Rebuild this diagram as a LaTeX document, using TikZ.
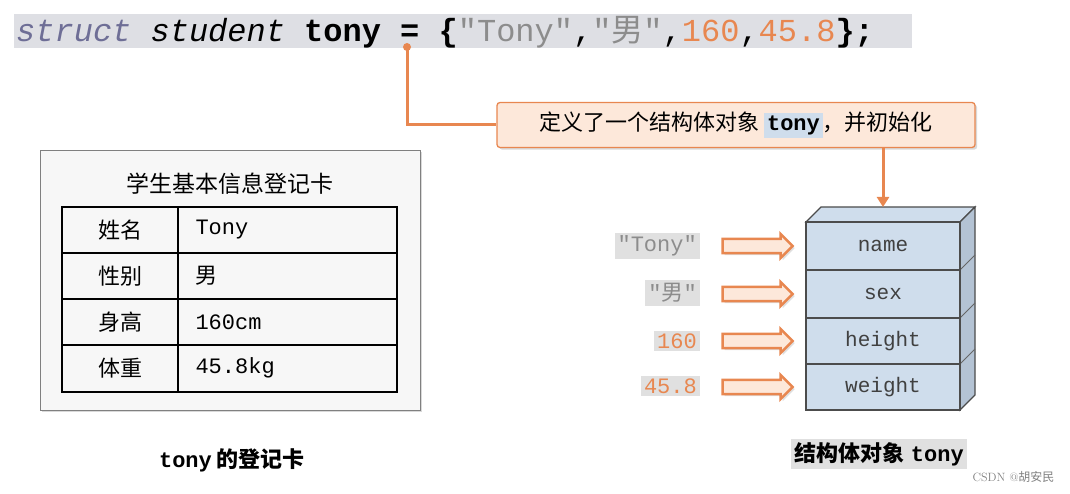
\documentclass[tikz,border=0pt]{standalone}
\usepackage{fontspec}
\setmonofont{Liberation Mono}
\newfontfamily\cjk{Noto Sans CJK SC}
\usetikzlibrary{shapes.arrows,shadows,arrows.meta}
\definecolor{org}{RGB}{232,135,80}
\definecolor{peach}{RGB}{253,232,218}
\definecolor{codebg}{RGB}{222,223,228}
\definecolor{boxblue}{RGB}{207,221,236}
\definecolor{boxside}{RGB}{180,195,212}
\definecolor{lgray}{RGB}{224,224,224}
\definecolor{strcol}{RGB}{140,140,140}
\definecolor{kw}{RGB}{110,110,150}
\tikzset{
 fat/.style={single arrow,draw=org,fill=peach,line width=2.5pt,minimum height=70pt,minimum width=24pt,single arrow head extend=3pt,single arrow head indent=0pt,inner sep=3pt,drop shadow={opacity=0.25}},
 lab/.style={fill=lgray,inner sep=3pt,font=\ttfamily\fontsize{22}{22}\selectfont,anchor=east},
 cell/.style={font=\ttfamily\fontsize{21}{21}\selectfont,text=black!75},
}
\begin{document}
\begin{tikzpicture}[x=1pt,y=-1pt]
\useasboundingbox (0,0) rectangle (1070,494);
% code line
\fill[codebg] (14,14) rectangle (912,48);
\node[anchor=west,inner sep=0,font=\ttfamily\fontsize{32}{32}\selectfont] (code) at (16,32)
 {\textcolor{kw}{\itshape struct} \textit{student} \textbf{tony} \textbf{=} \textbf{\{}\textcolor{strcol}{"Tony"},\textcolor{strcol}{"{\cjk 男}"},\textcolor{org}{160},\textcolor{org}{45.8}\textbf{\};}};
\coordinate (dot) at (407,47);
% callout
\node[draw=org,line width=1.3pt,fill=peach,rounded corners=3pt,minimum width=478pt,minimum height=45pt,drop shadow={opacity=0.3},font=\cjk\fontsize{22}{22}\selectfont] (call) at (736,125)
 {定义了一个结构体对象 \colorbox{boxblue}{\ttfamily\bfseries tony}，并初始化};
\fill[org] (dot) circle (4);
\draw[org,line width=3pt] (dot) |- (call.west);
% card
\node[draw=black!50,fill=black!3,minimum width=380pt,minimum height=260pt,drop shadow={opacity=0.3}] (card) at (230,280) {};
\node[font=\cjk\fontsize{23}{23}\selectfont] (title) at (230,184) {学生基本信息登记卡};
\draw[line width=2.5pt] (62,207) rectangle (397,392);
\foreach \y in {253,299,345} \draw[line width=1.5pt] (62,\y) -- (397,\y);
\draw[line width=1.5pt] (178,207) -- (178,392);
\foreach \k/\v [count=\i] in {姓名/Tony,性别/{\cjk 男},身高/160cm,体重/45.8kg}{
 \node[font=\cjk\fontsize{22}{22}\selectfont,anchor=west] (k\i) at (95,184+46*\i) {\k};
 \node[font=\ttfamily\fontsize{22}{22}\selectfont,anchor=west] (v\i) at (192,184+46*\i) {\v};
}
\node[font=\fontsize{22}{22}\selectfont] (cap1) at (232,460) {\ttfamily\bfseries tony\cjk\bfseries\ 的登记卡};
% 3D box
\fill[boxblue,draw=black!70,line width=1.2pt] (806,222) -- (821,207) -- (975,207) -- (960,222) -- cycle;
\fill[boxside,draw=black!70,line width=1.2pt] (960,222) -- (975,207) -- (975,395) -- (960,410) -- cycle;
\foreach \y in {270,318,364} \draw[black!60,line width=1pt] (960,\y) -- (975,\y-15);
\foreach \n/\t/\a/\b in {name/name/222/270,sex/sex/270/318,height/height/318/364,weight/weight/364/410}
 \node[draw=black!70,line width=1.2pt,fill=boxblue,minimum width=154pt,minimum height={\b-\a},inner sep=0,cell] (\n) at (883,{(\a+\b)/2}) {\t};
\coordinate (top) at (883,207);
\draw[org,line width=3pt,-{Triangle[length=10pt,width=12pt]}] (call.south -| top) -- (top);
% labels and arrows
\node[lab,text=strcol] (l1) at (700,246) {"Tony"};
\node[lab,text=strcol] (l2) at (700,293) {"{\cjk 男}"};
\node[lab,text=org] (l3) at (700,341) {160};
\node[lab,text=org] (l4) at (700,386) {45.8};
\foreach \i/\n in {1/name,2/sex,3/height,4/weight}{
 \node[fat] (a\i) at (754,0 |- \n.center) {};
}
\node[fill=lgray,inner sep=3pt,font=\fontsize{22}{22}\selectfont] (cap2) at (879,454) {{\cjk\bfseries 结构体对象} \ttfamily\bfseries tony};
\node[text=black!50,font=\fontsize{12}{12}\selectfont,anchor=east] (wm) at (1058,477) {CSDN @{\cjk 胡安民}};
\end{tikzpicture}
\end{document}
